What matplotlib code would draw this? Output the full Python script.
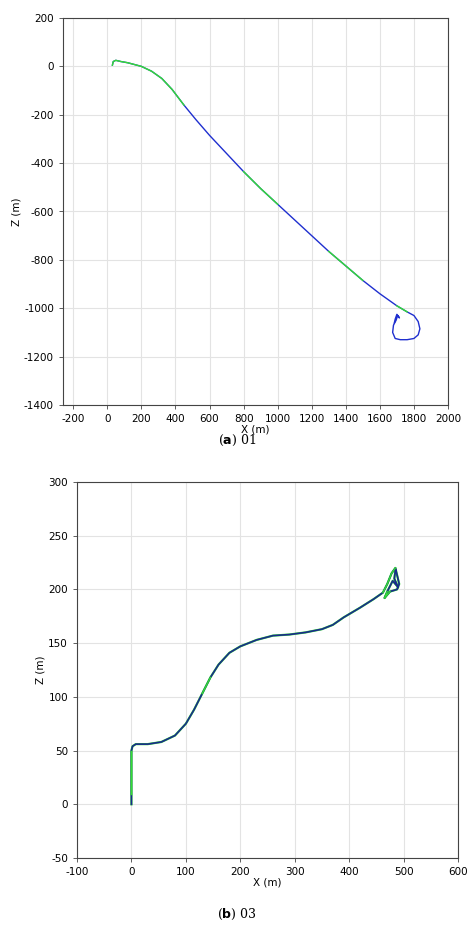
import matplotlib
matplotlib.use("Agg")
import matplotlib.pyplot as plt
plt.rcParams["axes.unicode_minus"] = False

# Sequence 01 trajectory (X, Z)
x01 = [30, 35, 50, 80, 120, 200, 260, 320, 380, 450, 520, 600, 700, 800, 900, 1000, 1100, 1200, 1300, 1400, 1500, 1600, 1700, 1760, 1800, 1825, 1835, 1825, 1800, 1760, 1720, 1690, 1675, 1680, 1695, 1705, 1715, 1700, 1690, 1685]
z01 = [5, 20, 25, 20, 15, 0, -20, -50, -95, -160, -220, -285, -360, -435, -505, -570, -635, -700, -765, -825, -885, -940, -990, -1015, -1030, -1055, -1085, -1110, -1125, -1130, -1130, -1125, -1100, -1070, -1050, -1030, -1040, -1025, -1045, -1060]
green01 = [(0, 9), (13, 15), (18, 20), (22, 23)]
# Sequence 03 trajectory (X, Z)
x03 = [0, 0, 0, 0, 2, 8, 30, 55, 80, 100, 115, 130, 145, 160, 180, 200, 230, 260, 290, 320, 350, 370, 390, 420, 445, 462, 470, 478, 485, 492, 488, 475, 465, 470, 480, 490, 483, 485]
z03 = [0, 10, 30, 50, 54, 56, 56, 58, 64, 75, 88, 103, 118, 130, 141, 147, 153, 157, 158, 160, 163, 167, 174, 183, 191, 197, 205, 215, 220, 205, 200, 198, 192, 198, 208, 202, 210, 218]
green03 = [(1, 3), (11, 12), (25, 28), (31, 33)]

BLUE = "#1f2fcf"
GREEN = "#33dd33"

fig = plt.figure(figsize=(4.74, 9.34), dpi=100)
ax1 = fig.add_axes([63/474, 1-405/934, 385/474, 387/934])
ax2 = fig.add_axes([77/474, 1-858/934, 381/474, 376/934])

def style(ax):
    ax.grid(True, color="#e3e3e3", lw=0.8)
    ax.set_axisbelow(True)
    for s in ax.spines.values():
        s.set_color("#444444"); s.set_linewidth(0.8)
    ax.tick_params(labelsize=7.5, length=3, width=0.6, color="#444444")
    ax.set_xlabel("X (m)", fontsize=7.5, labelpad=0)
    ax.set_ylabel("Z (m)", fontsize=7.5, labelpad=2)

ax1.plot(x01, z01, color=BLUE, lw=1.0)
for a, b in green01:
    ax1.plot(x01[a:b+1], z01[a:b+1], color=GREEN, lw=1.0)
ax1.set_xlim(-260, 2000); ax1.set_ylim(-1400, 200)
ax1.set_xticks(range(-200, 2001, 200)); ax1.set_yticks(range(-1400, 201, 200))
style(ax1)

ax2.plot(x03, z03, color=GREEN, lw=1.6)
ax2.plot(x03, z03, color="#1a2a8c", lw=1.2)
for a, b in green03:
    ax2.plot(x03[a:b+1], z03[a:b+1], color=GREEN, lw=1.0)
ax2.set_xlim(-100, 600); ax2.set_ylim(-50, 300)
ax2.set_xticks(range(-100, 601, 100)); ax2.set_yticks(range(-50, 301, 50))
style(ax2)

fig.text(0.5, 1-440/934, r"($\bf{a}$) 01", ha="center", va="center", fontsize=9, family="DejaVu Serif")
fig.text(0.5, 1-914/934, r"($\bf{b}$) 03", ha="center", va="center", fontsize=9, family="DejaVu Serif")
fig.savefig("out.png", dpi=100, facecolor="white")
